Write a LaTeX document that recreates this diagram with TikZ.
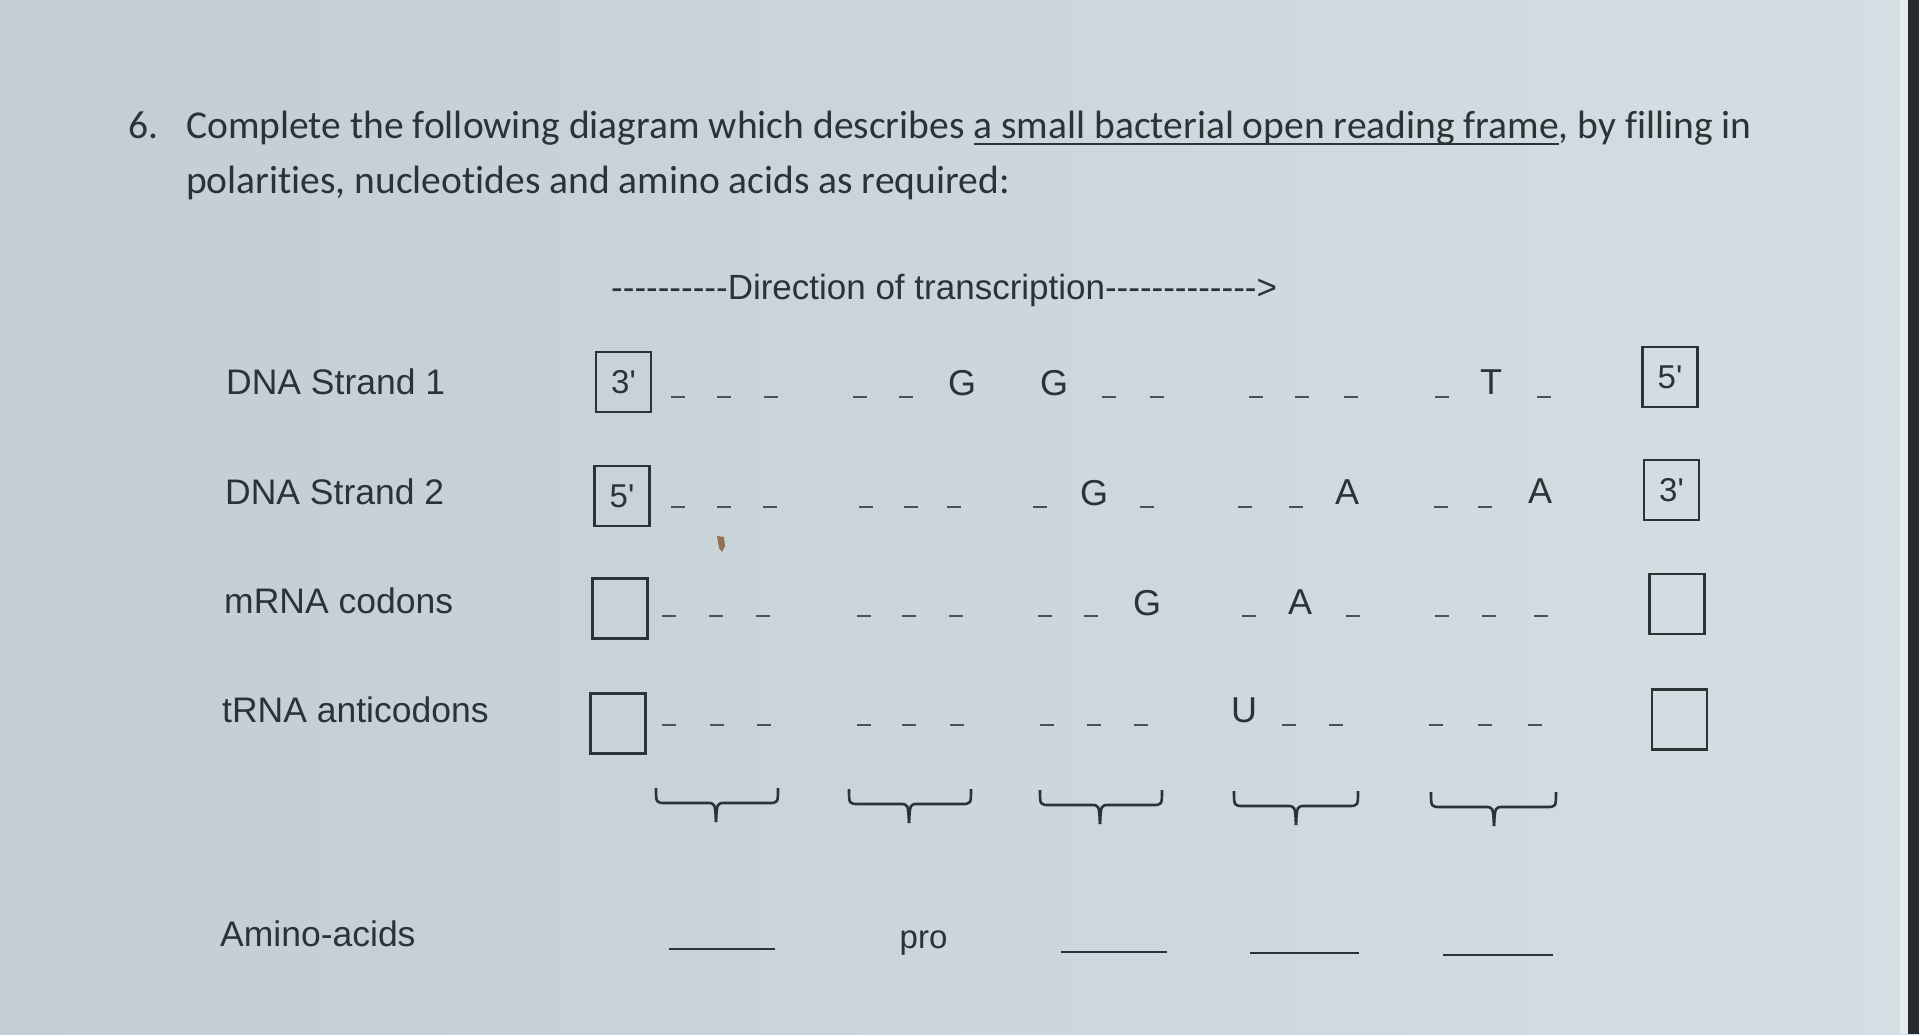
\documentclass[tikz,border=0pt]{standalone}
\usepackage{fontspec}
\setmainfont{Liberation Sans}
\newfontfamily\calib{Carlito}[Ligatures={NoCommon}]
\definecolor{ink}{RGB}{45,50,55}
\definecolor{bgl}{RGB}{194,205,212}
\definecolor{bgr}{RGB}{213,222,227}
\definecolor{bezel}{RGB}{38,44,50}
\definecolor{penmark}{RGB}{150,110,80}
\newcommand\blank[2]{\draw[blankline] (#1-7,#2) -- (#1+7,#2);}
\newcommand\pr{\textquotesingle}
\newcommand\myul[1]{\setbox0\hbox{#1}\rlap{\rule[-7pt]{\wd0}{2.2pt}}\box0}
\newcommand\codonbr[5]{% x1, x2, tip x, top y, horizontal y / tip bottom is +19
  \draw[bracel] (#1,#4) .. controls (#1,#5) .. (#1+10,#5) -- (#3-9,#5) .. controls (#3-1,#5) .. (#3,#5+19);
  \draw[bracel] (#2,#4) .. controls (#2,#5) .. (#2-10,#5) -- (#3+9,#5) .. controls (#3+1,#5) .. (#3,#5+19);}
\begin{document}
\begin{tikzpicture}[x=1pt,y=-1pt,
  lab/.style={anchor=west,inner sep=0pt,text=ink,font=\fontsize{35.5}{42}\selectfont},
  nt/.style={anchor=center,inner sep=0pt,text=ink,font=\fontsize{36}{42}\selectfont},
  pbox/.style={draw=ink,line width=2.5pt,inner sep=0pt,minimum width=55pt,minimum height=60pt,text=ink,font=\fontsize{33}{40}\selectfont},
  blankline/.style={draw=ink!85,line width=2.2pt},
  ansline/.style={draw=ink,line width=2.2pt},
  bracel/.style={draw=ink,line width=2.6pt},
  title/.style={anchor=base west,inner sep=0pt,text=ink,font=\calib\fontsize{39.5}{46}\selectfont}]
\useasboundingbox (0,0) rectangle (1919,1034);
\fill[left color=bgl,right color=bgr] (0,0) rectangle (1919,1034);
\fill[bgr!60!white] (1900,0) rectangle (1908,1034);
\fill[bezel] (1908,0) rectangle (1919,1034);

% title
\node[title] (num) at (128,138) {6.};
\node[title] (t1) at (186,138) {Complete the following diagram which describes \myul{a small bacterial open reading frame}, by filling in};
\node[title] (t2) at (186,193) {polarities, nucleotides and amino acids as required:};

% direction
\node[lab,font=\fontsize{35}{42}\selectfont] (dir) at (611,290) {-{}-{}-{}-{}-{}-{}-{}-{}-{}-{}Direction of transcription-{}-{}-{}-{}-{}-{}-{}-{}-{}-{}-{}-{}-{}>};

% row labels
\node[lab] (l1) at (226,382) {DNA Strand 1};
\node[lab] (l2) at (225,492) {DNA Strand 2};
\node[lab] (l3) at (224,601) {mRNA codons};
\node[lab] (l4) at (222,710) {tRNA anticodons};
\node[lab] (l5) at (220,934) {Amino-acids};

% polarity boxes
\node[pbox] (b1l) at (623.5,382) {3\pr};
\node[pbox] (b1r) at (1670,377) {5\pr};
\node[pbox] (b2l) at (622,496) {5\pr};
\node[pbox] (b2r) at (1671.5,490) {3\pr};
\node[pbox] (b3l) at (620,608.5) {};
\node[pbox] (b3r) at (1677,604) {};
\node[pbox] (b4l) at (618,723.5) {};
\node[pbox] (b4r) at (1679.5,719.5) {};

% DNA strand 1
\foreach \x in {678,724,771,860,906,1109,1157,1256,1302,1351,1442,1544} {\blank{\x}{397}}
\node[nt] (s1g1) at (962,383) {G};
\node[nt] (s1g2) at (1054,383) {G};
\node[nt] (s1t) at (1491,382) {T};

% DNA strand 2
\foreach \x in {678,724,770,866,911,954,1040,1147,1245,1296,1441,1485} {\blank{\x}{507}}
\node[nt] (s2g) at (1094,493) {G};
\node[nt] (s2a1) at (1347,492) {A};
\node[nt] (s2a2) at (1540,491) {A};

% mRNA
\foreach \x in {669,716,763,864,909,956,1045,1091,1249,1353,1442,1489,1541} {\blank{\x}{616}}
\node[nt] (mg) at (1147,603) {G};
\node[nt] (ma) at (1300,602) {A};

% tRNA
\foreach \x in {669,717,764,864,909,957,1047,1094,1141,1289,1336,1436,1485,1535} {\blank{\x}{725}}
\node[nt] (tu) at (1244,710) {U};

% braces
\codonbr{656}{778}{716}{788}{803}
\codonbr{849}{971}{909}{789}{804}
\codonbr{1040}{1162}{1100}{790}{805}
\codonbr{1234}{1358}{1296}{791}{806}
\codonbr{1431}{1556}{1494}{792}{807}

% amino acids
\draw[ansline] (669,949) -- (775,949);
\node[nt,anchor=base,font=\fontsize{33}{40}\selectfont] (pro) at (923.5,948) {pro};
\draw[ansline] (1061,952) -- (1167,952);
\draw[ansline] (1250,953) -- (1359,953);
\draw[ansline] (1443,955) -- (1553,955);

% small pen mark
\fill[penmark] (717,536) -- (724,537) -- (725,546) -- (722,552) -- (719,548) -- cycle;
\end{tikzpicture}
\end{document}
